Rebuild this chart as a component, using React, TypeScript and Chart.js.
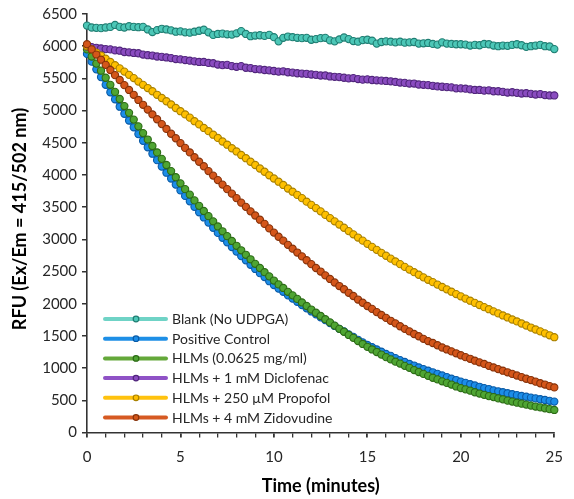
import React, { useEffect, useRef } from "react";
import { Chart, registerables } from "chart.js";

Chart.register(...registerables);

// Sampling times (minutes), every 15 s
const TIME_MIN = [
  0, 0.25, 0.5, 0.75, 1, 1.25, 1.5, 1.75, 2, 2.25, 2.5, 2.75, 3, 3.25, 3.5, 3.75,
  4, 4.25, 4.5, 4.75, 5, 5.25, 5.5, 5.75, 6, 6.25, 6.5, 6.75, 7, 7.25, 7.5, 7.75,
  8, 8.25, 8.5, 8.75, 9, 9.25, 9.5, 9.75, 10, 10.25, 10.5, 10.75, 11, 11.25, 11.5, 11.75,
  12, 12.25, 12.5, 12.75, 13, 13.25, 13.5, 13.75, 14, 14.25, 14.5, 14.75, 15, 15.25, 15.5, 15.75,
  16, 16.25, 16.5, 16.75, 17, 17.25, 17.5, 17.75, 18, 18.25, 18.5, 18.75, 19, 19.25, 19.5, 19.75,
  20, 20.25, 20.5, 20.75, 21, 21.25, 21.5, 21.75, 22, 22.25, 22.5, 22.75, 23, 23.25, 23.5, 23.75,
  24, 24.25, 24.5, 24.75, 25,
];

const BLANK_NO_UDPGA = [
  6320,
  6290, 6285, 6280, 6290, 6300, 6330, 6300, 6290, 6310, 6300, 6295, 6300,
  6260, 6220, 6250, 6270, 6260, 6245, 6225, 6230, 6215, 6210, 6225, 6240,
  6255, 6215, 6175, 6190, 6195, 6185, 6180, 6200, 6235, 6190, 6155, 6165,
  6170, 6160, 6175, 6140, 6075, 6130, 6150, 6140, 6130, 6125, 6130, 6100,
  6110, 6125, 6130, 6090, 6075, 6105, 6135, 6110, 6080, 6070, 6095, 6100,
  6085, 6040, 6065, 6075, 6070, 6060, 6070, 6055, 6060, 6065, 6040, 6045,
  6050, 6035, 6025, 6060, 6040, 6035, 6030, 6030, 6025, 6010, 6020, 6015,
  6035, 6030, 6010, 6000, 6010, 6005, 6020, 6030, 6015, 5990, 6000, 6010,
  6020, 6000, 5995, 5955,
];

const POSITIVE_CONTROL = [
  5880,
  5760, 5640, 5520, 5400, 5285, 5175, 5060, 4950, 4845, 4740, 4635, 4530,
  4430, 4330, 4230, 4130, 4035, 3945, 3850, 3760, 3675, 3590, 3505, 3420,
  3340, 3260, 3180, 3100, 3025, 2955, 2880, 2810, 2740, 2675, 2605, 2540,
  2475, 2415, 2350, 2290, 2235, 2185, 2130, 2080, 2030, 1980, 1930, 1880,
  1835, 1790, 1745, 1700, 1655, 1610, 1570, 1525, 1485, 1440, 1400, 1360,
  1325, 1290, 1255, 1220, 1190, 1155, 1125, 1095, 1065, 1040, 1010, 985,
  960, 935, 910, 885, 860, 835, 815, 790, 770, 750, 730, 710,
  690, 675, 655, 640, 625, 610, 595, 580, 567, 555, 542, 530,
  517, 505, 492, 480,
];

const HLMS = [
  5950,
  5840, 5730, 5620, 5510, 5400, 5290, 5180, 5070, 4965, 4860, 4755, 4650,
  4550, 4450, 4350, 4250, 4155, 4060, 3965, 3870, 3780, 3695, 3605, 3520,
  3440, 3360, 3280, 3200, 3125, 3050, 2975, 2900, 2830, 2760, 2690, 2620,
  2555, 2490, 2425, 2360, 2300, 2245, 2185, 2130, 2075, 2020, 1965, 1910,
  1860, 1810, 1760, 1710, 1660, 1610, 1565, 1515, 1470, 1420, 1375, 1330,
  1290, 1250, 1210, 1170, 1135, 1100, 1070, 1035, 1005, 970, 940, 910,
  880, 850, 825, 795, 770, 745, 715, 690, 670, 650, 625, 605,
  585, 565, 550, 530, 515, 495, 480, 463, 448, 433, 418, 403,
  390, 377, 363, 350,
];

const DICLOFENAC = [
  5995,
  5985, 5975, 5965, 5955, 5950, 5935, 5930, 5910, 5905, 5895, 5890, 5870,
  5860, 5855, 5840, 5835, 5825, 5815, 5800, 5795, 5785, 5775, 5765, 5755,
  5755, 5740, 5735, 5715, 5705, 5710, 5690, 5680, 5690, 5665, 5660, 5645,
  5640, 5630, 5625, 5615, 5605, 5610, 5595, 5590, 5580, 5575, 5570, 5560,
  5555, 5545, 5545, 5530, 5525, 5520, 5510, 5500, 5505, 5490, 5480, 5485,
  5475, 5470, 5465, 5460, 5455, 5445, 5435, 5430, 5420, 5420, 5405, 5400,
  5395, 5385, 5375, 5370, 5365, 5360, 5345, 5345, 5340, 5330, 5320, 5320,
  5310, 5315, 5300, 5300, 5290, 5280, 5285, 5275, 5265, 5270, 5260, 5250,
  5255, 5240, 5235, 5235,
];

const PROPOFOL = [
  6000,
  5950, 5900, 5855, 5805, 5755, 5705, 5655, 5605, 5555, 5505, 5450, 5400,
  5350, 5300, 5245, 5195, 5145, 5095, 5040, 4990, 4940, 4890, 4835, 4785,
  4730, 4680, 4625, 4575, 4520, 4470, 4415, 4365, 4310, 4260, 4205, 4155,
  4100, 4050, 3995, 3945, 3895, 3845, 3790, 3740, 3690, 3640, 3585, 3535,
  3485, 3435, 3380, 3330, 3280, 3230, 3180, 3128, 3078, 3028, 2980, 2930,
  2883, 2837, 2790, 2745, 2700, 2657, 2615, 2572, 2530, 2490, 2450, 2410,
  2372, 2335, 2297, 2260, 2223, 2187, 2150, 2115, 2080, 2047, 2013, 1980,
  1947, 1915, 1882, 1850, 1818, 1787, 1755, 1725, 1693, 1662, 1630, 1600,
  1570, 1540, 1510, 1480,
];

const ZIDOVUDINE = [
  6030,
  5950, 5870, 5790, 5710, 5630, 5550, 5475, 5395, 5320, 5245, 5165, 5090,
  5015, 4940, 4865, 4790, 4715, 4640, 4570, 4495, 4420, 4350, 4275, 4205,
  4135, 4060, 3990, 3920, 3850, 3780, 3710, 3640, 3570, 3505, 3435, 3370,
  3305, 3240, 3170, 3105, 3040, 2980, 2915, 2855, 2795, 2735, 2675, 2615,
  2555, 2500, 2440, 2385, 2330, 2275, 2225, 2170, 2120, 2065, 2015, 1965,
  1920, 1870, 1825, 1780, 1735, 1695, 1650, 1610, 1570, 1530, 1495, 1455,
  1420, 1390, 1355, 1320, 1290, 1260, 1230, 1200, 1170, 1145, 1115, 1090,
  1065, 1035, 1010, 985, 960, 935, 910, 885, 860, 835, 815, 790,
  765, 745, 720, 700,
];

const SERIES_NAMES = [
  "Blank (No UDPGA)",
  "Positive Control",
  "HLMs (0.0625 mg/ml)",
  "HLMs + 1 mM Diclofenac",
  "HLMs + 250 µM Propofol",
  "HLMs + 4 mM Zidovudine",
];
const SERIES_VALUES = [BLANK_NO_UDPGA, POSITIVE_CONTROL, HLMS, DICLOFENAC, PROPOFOL, ZIDOVUDINE];
const LINE_COLORS = ["#6FD3C6", "#1E8FE6", "#64A83A", "#8F52C6", "#FFC20E", "#D65A22"];
const FILL_COLORS = ["#4CC7B7", "#1C8DE8", "#4FA533", "#8A4CC0", "#FFC000", "#D4561A"];
const EDGE_COLORS = ["#1F7D72", "#0A5AA6", "#2C6B16", "#51267C", "#A88000", "#86320A"];

const Y_TICKS_MAX = 6500;
const Y_STEP = 500;
const X_MAX = 25;
const X_TITLE = "Time (minutes)";
const Y_TITLE = "RFU (Ex/Em = 415/502 nm)";

const FONT = 'Lato, "Open Sans", "DejaVu Sans", sans-serif';
const AXIS_COLOR = "#333333";
const TEXT_COLOR = "#262626";

const overlayPlugin = {
  id: "overlay",
  afterDraw(chart: any) {
    const { ctx, chartArea } = chart;
    ctx.save();
    // legend
    const lx = chartArea.left + 18;
    const ly = chartArea.top + 305;
    const rowH = 19.7;
    chart.data.datasets.forEach((ds: any, i: number) => {
      const y = ly + i * rowH;
      ctx.strokeStyle = LINE_COLORS[i];
      ctx.lineWidth = 4;
      ctx.lineCap = "round";
      ctx.beginPath();
      ctx.moveTo(lx, y);
      ctx.lineTo(lx + 61, y);
      ctx.stroke();
      ctx.beginPath();
      ctx.arc(lx + 31, y, 2.8, 0, Math.PI * 2);
      ctx.fillStyle = FILL_COLORS[i];
      ctx.fill();
      ctx.lineWidth = 1.2;
      ctx.strokeStyle = EDGE_COLORS[i];
      ctx.stroke();
      ctx.fillStyle = TEXT_COLOR;
      ctx.font = `14px ${FONT}`;
      ctx.textAlign = "left";
      ctx.textBaseline = "middle";
      ctx.fillText(ds.label, lx + 67, y + 0.5);
    });
    // axis titles
    ctx.fillStyle = "#000";
    ctx.font = `bold 18px ${FONT}`;
    ctx.textAlign = "center";
    ctx.textBaseline = "middle";
    ctx.fillText(X_TITLE, (chartArea.left + chartArea.right) / 2, 486);
    ctx.translate(20, 219);
    ctx.rotate(-Math.PI / 2);
    ctx.fillText(Y_TITLE, 0, 0);
    ctx.restore();
  },
};

export default function App() {
  const ref = useRef<HTMLCanvasElement>(null);
  useEffect(() => {
    document.body.style.margin = "0";
    const canvas = ref.current!;
    const datasets = SERIES_VALUES.map((vals, i) => ({
      label: SERIES_NAMES[i],
      data: vals.map((v, k) => ({ x: TIME_MIN[k], y: v })),
      borderColor: LINE_COLORS[i],
      borderWidth: 3,
      backgroundColor: FILL_COLORS[i],
      pointBackgroundColor: FILL_COLORS[i],
      pointBorderColor: EDGE_COLORS[i],
      pointBorderWidth: 1.1,
      pointRadius: 3.6,
      tension: 0,
      clip: false as any,
      order: 6 - i,
    }));
    const chart = new Chart(canvas, {
      type: "line",
      data: { datasets },
      plugins: [overlayPlugin],
      options: {
        animation: false,
        responsive: false,
        devicePixelRatio: 1,
        layout: { padding: { left: 0, top: 12, right: 18, bottom: 0 } },
        plugins: { legend: { display: false }, tooltip: { enabled: false }, title: { display: false } },
        scales: {
          x: {
            type: "linear",
            min: 0,
            max: X_MAX,
            border: { color: AXIS_COLOR, width: 1.6 },
            grid: {
              drawOnChartArea: false,
              drawTicks: true,
              tickLength: 5,
              color: AXIS_COLOR,
              lineWidth: (c: any) => (c.tick && c.tick.value % 5 === 0 ? 1.8 : 1.3),
            },
            ticks: {
              stepSize: 1,
              autoSkip: false,
              maxRotation: 0,
              padding: 11,
              color: TEXT_COLOR,
              font: { family: FONT, size: 15 },
              callback: (v: any) => (Number(v) % 5 === 0 ? String(v) : ""),
            },
            afterFit: (s: any) => {
              s.height = 66.5;
            },
          },
          y: {
            type: "linear",
            min: 0,
            max: Y_TICKS_MAX,
            border: { color: AXIS_COLOR, width: 1.6 },
            grid: { drawOnChartArea: false, tickLength: 5, color: AXIS_COLOR, lineWidth: 1.5 },
            ticks: {
              stepSize: Y_STEP,
              padding: 5,
              color: TEXT_COLOR,
              font: { family: FONT, size: 15 },
              callback: (v: any) => String(v),
            },
            afterFit: (s: any) => {
              s.width = 87;
            },
          },
        },
      },
    });
    return () => chart.destroy();
  }, []);
  return (
    <div style={{ position: "absolute", left: 0, top: 0, width: 574, height: 499, background: "#fff" }}>
      <canvas ref={ref} width={574} height={499} style={{ width: 574, height: 499, display: "block" }} />
    </div>
  );
}
